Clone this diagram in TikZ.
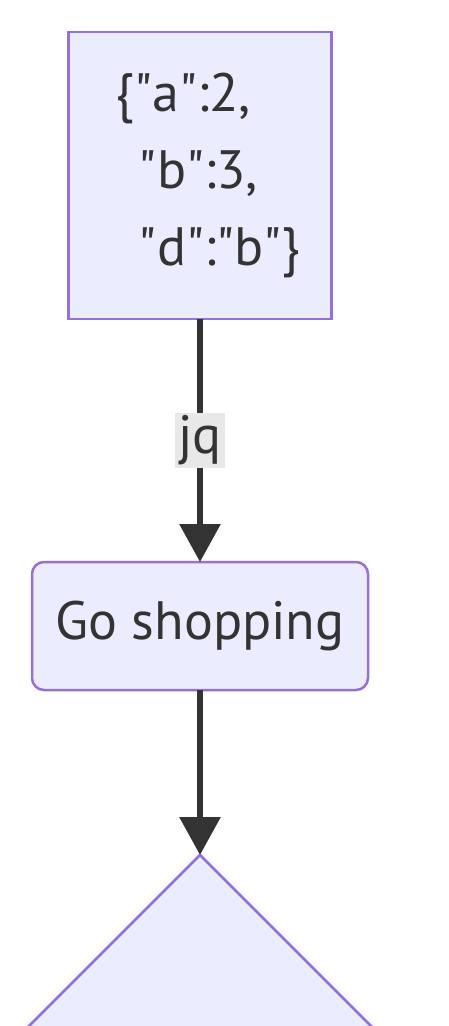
\documentclass[tikz,border=0pt]{standalone}
\usepackage{fontspec}
\setmainfont{PT Sans}
\usetikzlibrary{arrows.meta, positioning, shapes.geometric}

\definecolor{nodefill}{HTML}{ECECFF}
\definecolor{nodeline}{HTML}{9370DB}
\definecolor{ink}{HTML}{333333}
\definecolor{labelbg}{HTML}{E8E8E8}

\newcommand{\qt}{\textquotedbl}

\begin{document}
\begin{tikzpicture}[
  x=1pt, y=-1pt,
  box/.style = {draw=nodeline, fill=nodefill, line width=2.5pt, outer sep=0pt,
    text=ink, font=\fontsize{54}{77}\selectfont},
  flow/.style = {draw=ink, line width=6pt, -{Triangle[length=38pt, width=40pt]}},
  edgelabel/.style = {fill=labelbg, text=ink, inner sep=3pt, font=\fontsize{54}{60}\selectfont},
  node distance=243pt
  ]
  \useasboundingbox (0,0) rectangle (448,1026);
  \clip (0,0) rectangle (448,1026);

    % Input
  \node[box, minimum width=263pt, minimum height=287pt, align=left] (json) at (200,175.5)
    {\hspace{16pt}\{\qt a\qt:2,\\ \hspace{39pt}\qt b\qt:3,\\ \hspace{39pt}\qt d\qt:\qt b\qt\}};

    % Step
  \node[box, rounded corners=12pt, minimum width=336pt, minimum height=128pt,
    below=of json] (shop) {Go shopping};

    % Decision
  \node[box, diamond, minimum width=700pt, minimum height=700pt, inner sep=0pt,
    below=165pt of shop] (choice) {};

  \draw[flow] (json) -- node[edgelabel] {jq} (shop);
  \draw[flow] (shop) -- (choice);

\end{tikzpicture}
\end{document}
